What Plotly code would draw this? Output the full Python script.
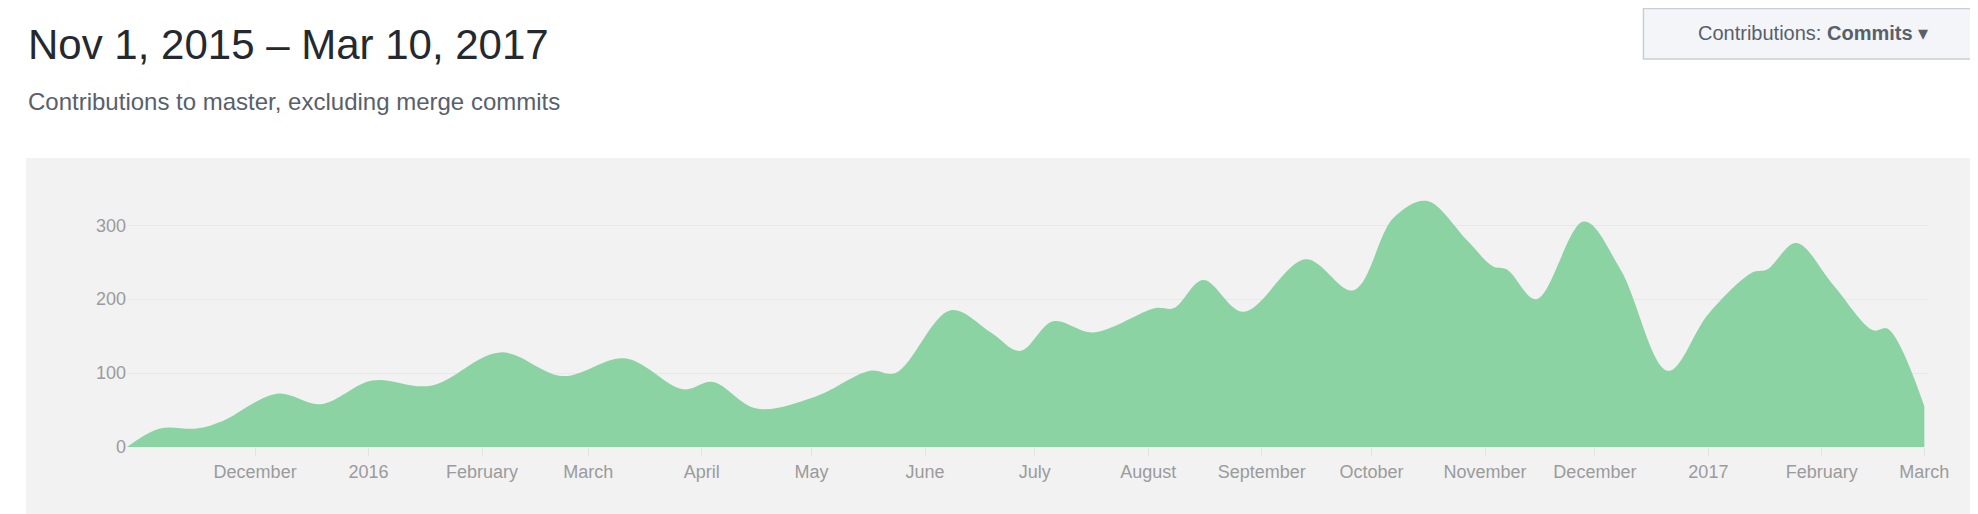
import plotly.graph_objects as go

dates = ["2015-10-27", "2015-11-05", "2015-11-15", "2015-11-22", "2015-12-07", "2015-12-19",
         "2016-01-02", "2016-01-18", "2016-02-06", "2016-02-23", "2016-03-11", "2016-03-27",
         "2016-04-04", "2016-04-16", "2016-05-02", "2016-05-17", "2016-05-24", "2016-06-08",
         "2016-06-19", "2016-06-27", "2016-07-06", "2016-07-17", "2016-08-03", "2016-08-08",
         "2016-08-16", "2016-08-27", "2016-09-13", "2016-09-26", "2016-10-07", "2016-10-16",
         "2016-10-27", "2016-11-03", "2016-11-07", "2016-11-15", "2016-11-28", "2016-12-08",
         "2016-12-21", "2017-01-01", "2017-01-13", "2017-01-17", "2017-01-25", "2017-02-04",
         "2017-02-15", "2017-02-19", "2017-03-01"]
commits = [0, 25, 25, 35, 72, 58,
           90, 83, 128, 96, 120, 78,
           88, 52, 68, 103, 100, 185,
           155, 130, 170, 155, 188, 188,
           226, 183, 254, 212, 310, 333,
           280, 245, 240, 200, 305, 240,
           103, 180, 236, 240, 276, 220,
           158, 160, 55]

tick_dates = ["2015-12-01", "2016-01-01", "2016-02-01", "2016-03-01", "2016-04-01", "2016-05-01",
              "2016-06-01", "2016-07-01", "2016-08-01", "2016-09-01", "2016-10-01", "2016-11-01",
              "2016-12-01", "2017-01-01", "2017-02-01", "2017-03-01"]
tick_labels = ["December", "2016", "February", "March", "April", "May", "June", "July", "August",
               "September", "October", "November", "December", "2017", "February", "March"]

fig = go.Figure()
fig.add_trace(go.Scatter(
    x=dates, y=commits, mode="lines", fill="tozeroy",
    line=dict(shape="spline", smoothing=1, color="#8bd3a3", width=0),
    fillcolor="#8bd3a3", hoverinfo="x+y"))

grey = "#9b9b9b"
fig.update_layout(
    width=1978, height=514,
    margin=dict(l=119, r=58, t=184, b=75),
    paper_bgcolor="white", plot_bgcolor="rgba(0,0,0,0)",
    showlegend=False,
    font=dict(family="Liberation Sans, Arial", color=grey, size=18),
    xaxis=dict(range=["2015-10-27", "2017-03-02"], tickvals=tick_dates, ticktext=tick_labels,
               showgrid=False, zeroline=False, ticks="outside", ticklen=8,
               tickcolor="#e4e4e4", tickfont=dict(size=18, color=grey)),
    yaxis=dict(range=[0, 345], tickvals=[0, 100, 200, 300], gridcolor="#e8e8e8",
               zeroline=False, tickfont=dict(size=18, color=grey), ticksuffix="  "),
    shapes=[
        dict(type="rect", xref="paper", yref="paper", x0=-0.056, x1=1.03, y0=-0.278, y1=1.133,
             fillcolor="#f2f2f2", line=dict(width=0), layer="below"),
        dict(type="rect", xref="paper", yref="paper", x0=0.842, x1=1.03, y0=1.522, y1=1.72,
             fillcolor="#f3f5f8", line=dict(width=1.5, color="#c9ced4"), layer="above"),
    ],
    annotations=[
        dict(text="Nov 1, 2015 – Mar 10, 2017", xref="paper", yref="paper", x=-0.056, y=1.68,
             xanchor="left", yanchor="top", showarrow=False,
             font=dict(size=42, color="#24292e", family="Liberation Sans, Arial")),
        dict(text="Contributions to master, excluding merge commits", xref="paper", yref="paper",
             x=-0.056, y=1.416, xanchor="left", yanchor="top", showarrow=False,
             font=dict(size=24, color="#586069")),
        dict(text="Contributions: <b>Commits</b> ▾", xref="paper", yref="paper",
             x=0.936, y=1.624, xanchor="center", yanchor="middle", showarrow=False,
             font=dict(size=20, color="#586069")),
    ],
)

fig.write_html("out.html")
